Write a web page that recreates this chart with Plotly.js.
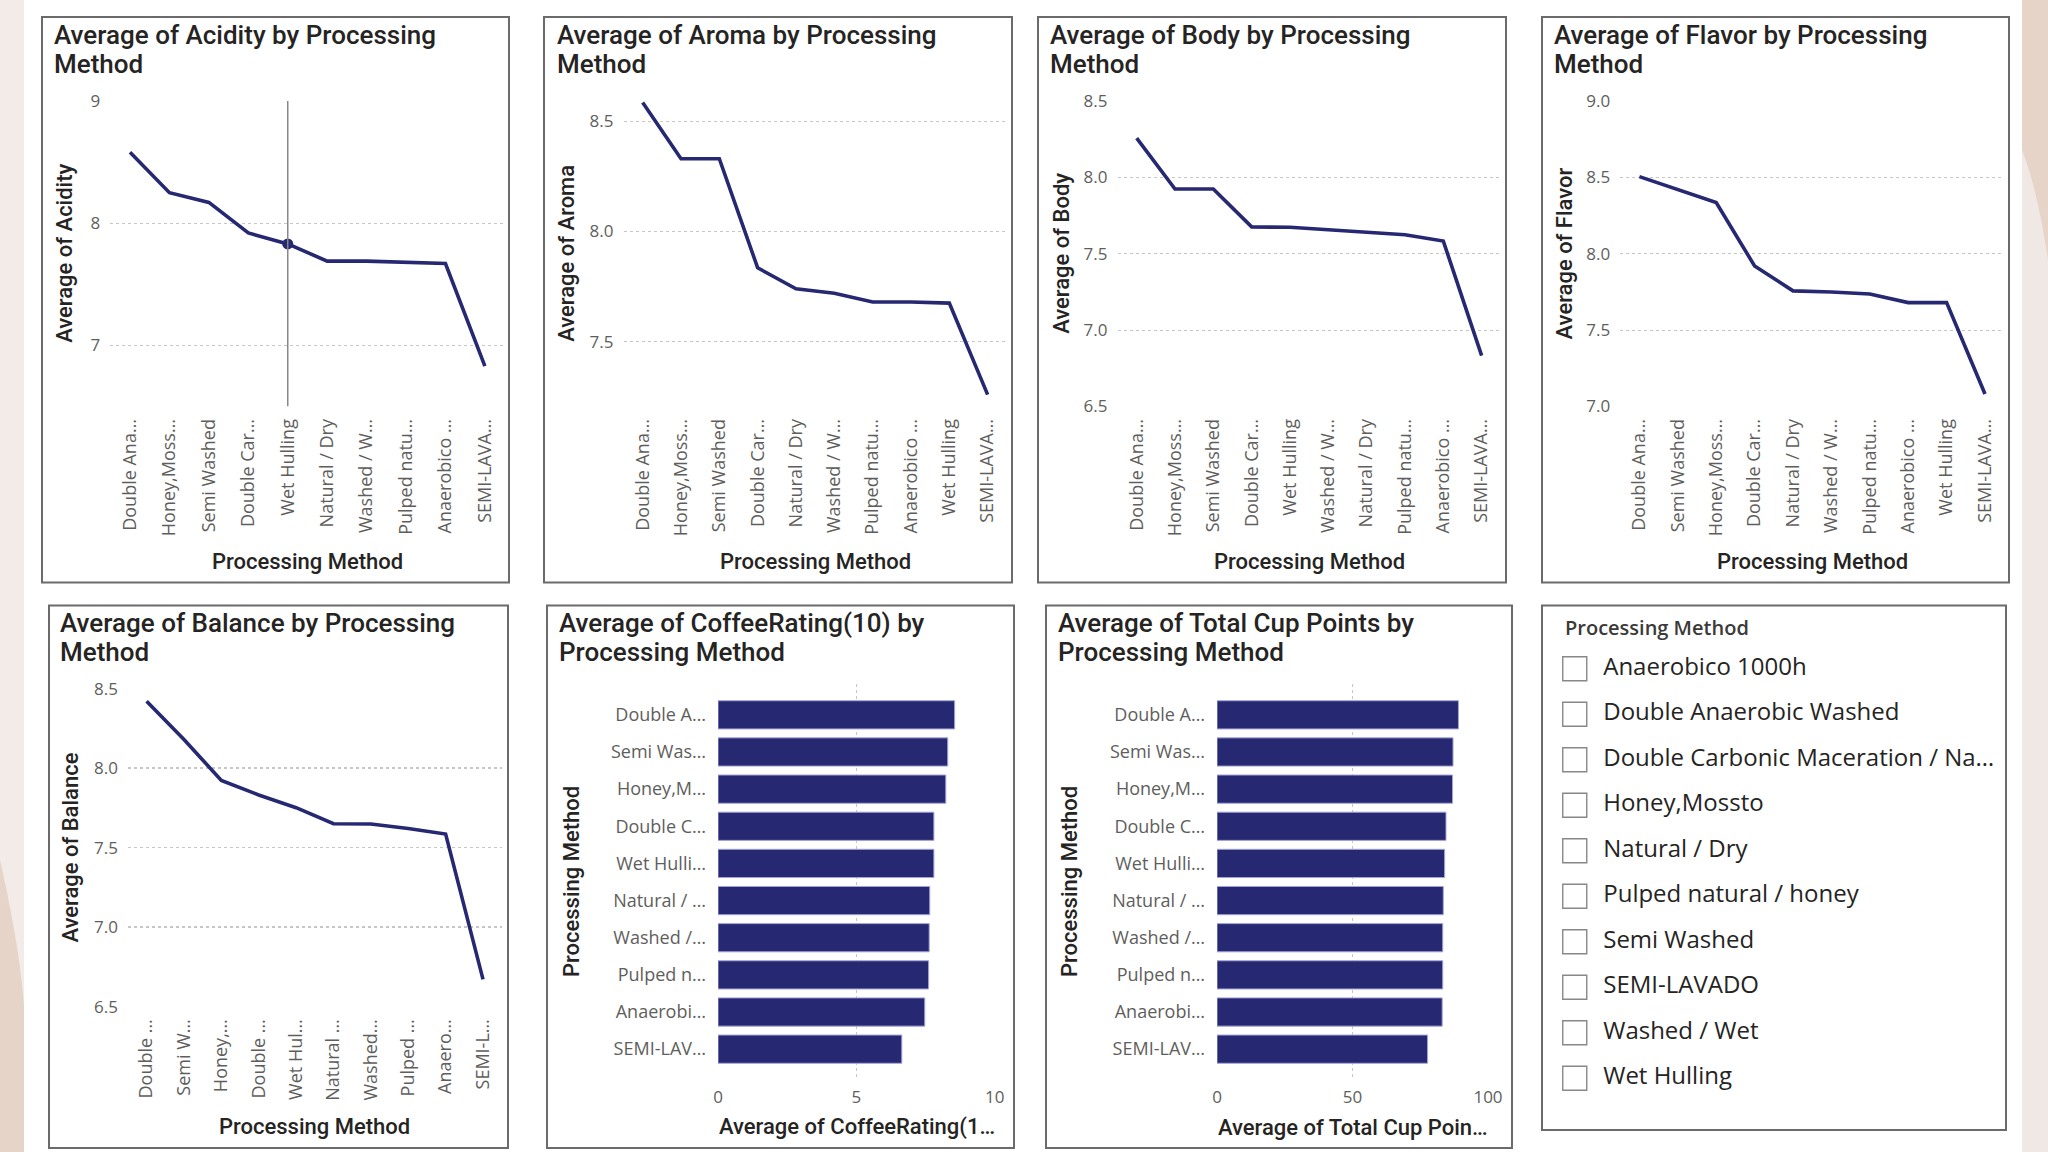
<!DOCTYPE html>
<html>
<head>
<meta charset="utf-8">
<script src="https://cdn.plot.ly/plotly-3.0.1.min.js"></script>
<style>
html,body{margin:0;padding:0;background:#ffffff;}
#chart{width:2048px;height:1152px;}
</style>
</head>
<body>
<div id="chart"></div>
<script>
// ---------------- DATA ----------------
const acidityCats = ["Double Anaerobic Washed","Honey,Mossto","Semi Washed","Double Carbonic Maceration / Natural","Wet Hulling","Natural / Dry","Washed / Wet","Pulped natural / honey","Anaerobico 1000h","SEMI-LAVADO"];
const acidityLabels = ["Double Ana…","Honey,Moss…","Semi Washed","Double Car…","Wet Hulling","Natural / Dry","Washed / W…","Pulped natu…","Anaerobico …","SEMI-LAVA…"];
const acidityValues = [8.58,8.25,8.17,7.92,7.83,7.69,7.69,7.68,7.67,6.83];

const aromaCats = ["Double Anaerobic Washed","Honey,Mossto","Semi Washed","Double Carbonic Maceration / Natural","Natural / Dry","Washed / Wet","Pulped natural / honey","Anaerobico 1000h","Wet Hulling","SEMI-LAVADO"];
const aromaLabels = ["Double Ana…","Honey,Moss…","Semi Washed","Double Car…","Natural / Dry","Washed / W…","Pulped natu…","Anaerobico …","Wet Hulling","SEMI-LAVA…"];
const aromaValues = [8.585,8.33,8.33,7.835,7.74,7.72,7.68,7.68,7.675,7.26];

const bodyCats = ["Double Anaerobic Washed","Honey,Mossto","Semi Washed","Double Carbonic Maceration / Natural","Wet Hulling","Washed / Wet","Natural / Dry","Pulped natural / honey","Anaerobico 1000h","SEMI-LAVADO"];
const bodyLabels = ["Double Ana…","Honey,Moss…","Semi Washed","Double Car…","Wet Hulling","Washed / W…","Natural / Dry","Pulped natu…","Anaerobico …","SEMI-LAVA…"];
const bodyValues = [8.257,7.924,7.924,7.676,7.673,7.658,7.644,7.624,7.583,6.833];

const flavorCats = ["Double Anaerobic Washed","Semi Washed","Honey,Mossto","Double Carbonic Maceration / Natural","Natural / Dry","Washed / Wet","Pulped natural / honey","Anaerobico 1000h","Wet Hulling","SEMI-LAVADO"];
const flavorLabels = ["Double Ana…","Semi Washed","Honey,Moss…","Double Car…","Natural / Dry","Washed / W…","Pulped natu…","Anaerobico …","Wet Hulling","SEMI-LAVA…"];
const flavorValues = [8.505,8.42,8.335,7.92,7.757,7.75,7.737,7.68,7.68,7.082];

const balanceCats = ["Double Anaerobic Washed","Semi Washed","Honey,Mossto","Double Carbonic Maceration / Natural","Wet Hulling","Natural / Dry","Washed / Wet","Pulped natural / honey","Anaerobico 1000h","SEMI-LAVADO"];
const balanceLabels = ["Double …","Semi W…","Honey,…","Double …","Wet Hul…","Natural …","Washed…","Pulped …","Anaero…","SEMI-L…"];
const balanceValues = [8.42,8.18,7.922,7.831,7.751,7.65,7.648,7.62,7.585,6.671];

const barCats = ["Double Anaerobic Washed","Semi Washed","Honey,Mossto","Double Carbonic Maceration / Natural","Wet Hulling","Natural / Dry","Washed / Wet","Pulped natural / honey","Anaerobico 1000h","SEMI-LAVADO"];
const barLabels = ["Double A…","Semi Was…","Honey,M…","Double C…","Wet Hulli…","Natural / …","Washed /…","Pulped n…","Anaerobi…","SEMI-LAV…"];
const coffeeRatingValues = [8.55,8.30,8.23,7.80,7.80,7.65,7.63,7.61,7.47,6.64];
const totalCupValues = [89.1,87.1,86.9,84.5,84.0,83.5,83.3,83.3,83.1,77.7];

const slicerHeader = "Processing Method";
const slicerItems = ["Anaerobico 1000h","Double Anaerobic Washed","Double Carbonic Maceration / Na…","Honey,Mossto","Natural / Dry","Pulped natural / honey","Semi Washed","SEMI-LAVADO","Washed / Wet","Wet Hulling"];

const chartTitles = [
  ["Average of Acidity by Processing","Method"],
  ["Average of Aroma by Processing","Method"],
  ["Average of Body by Processing","Method"],
  ["Average of Flavor by Processing","Method"],
  ["Average of Balance by Processing","Method"],
  ["Average of CoffeeRating(10) by","Processing Method"],
  ["Average of Total Cup Points by","Processing Method"]
];
const yTitles = ["Average of Acidity","Average of Aroma","Average of Body","Average of Flavor","Average of Balance","Processing Method","Processing Method"];
const xTitles = ["Processing Method","Processing Method","Processing Method","Processing Method","Processing Method","Average of CoffeeRating(1…","Average of Total Cup Poin…"];

// ---------------- LAYOUT HELPERS ----------------
const W = 2048, H = 1152;
const px = x => x / W;
const py = y => 1 - y / H;

const NAVY = "#262972";
const GRID = "#c8c6c4";
const TICK = "#605e5c";
const DARK = "#252423";
const TITLE_FONT = {family:"Roboto", size:26, weight:500, color:DARK};
const AXTITLE_FONT = {family:"Roboto", size:22, weight:500, color:DARK};
const NUM_FONT = {family:"Open Sans", size:17, color:TICK};
const CAT_FONT = {family:"Open Sans", size:18, color:TICK};

const panels = [
  {x0:42,x1:509,y0:17,y1:582.5},
  {x0:544,x1:1012,y0:17,y1:582.5},
  {x0:1038,x1:1506,y0:17,y1:582.5},
  {x0:1542,x1:2009,y0:17,y1:582.5},
  {x0:49,x1:508,y0:605.6,y1:1148},
  {x0:547,x1:1014,y0:605.6,y1:1148},
  {x0:1046,x1:1512,y0:605.6,y1:1148},
  {x0:1542,x1:2006,y0:605.6,y1:1130}
];
const plots = [
  {x0:110.3,x1:504.6,y0:101,y1:406.5},
  {x0:623.5,x1:1006.8,y0:101,y1:406.5},
  {x0:1117.5,x1:1500.8,y0:101,y1:406.5},
  {x0:1620.2,x1:2004.2,y0:101,y1:406.5},
  {x0:127.9,x1:501.7,y0:688.6,y1:1006.6},
  {x0:718,x1:994.8,y0:684,y1:1080},
  {x0:1217,x1:1488,y0:684,y1:1080}
];
const titlePos = [[52,35,64],[555,35,64],[1048,35,64],[1552,35,64],[58,623,651.5],[557,623,651.5],[1055.5,623,651.5]];
const yTitlePos = [[65,253.75],[567,253.75],[1062,253.75],[1564.7,253.75],[71,847.6],[571,882],[1069,882]];
const xTitlePos = [[307.5,561],[815,561],[1309,561],[1812,561],[314.8,1126],[857,1127],[1352.5,1127]];

const lineCharts = [
  {cats:acidityCats, labels:acidityLabels, vals:acidityValues, range:[6.5,9], tickvals:[7,8,9], fmt:".0f"},
  {cats:aromaCats, labels:aromaLabels, vals:aromaValues, range:[7.206,8.592], tickvals:[7.5,8.0,8.5], fmt:".1f"},
  {cats:bodyCats, labels:bodyLabels, vals:bodyValues, range:[6.5,8.5], tickvals:[6.5,7.0,7.5,8.0,8.5], fmt:".1f"},
  {cats:flavorCats, labels:flavorLabels, vals:flavorValues, range:[7,9], tickvals:[7.0,7.5,8.0,8.5,9.0], fmt:".1f"},
  {cats:balanceCats, labels:balanceLabels, vals:balanceValues, range:[6.5,8.5], tickvals:[6.5,7.0,7.5,8.0,8.5], fmt:".1f"}
];
const barCharts = [
  {vals:coffeeRatingValues, range:[0,10], tickvals:[0,5,10]},
  {vals:totalCupValues, range:[0,100], tickvals:[0,50,100]}
];

const traces = [];
const layout = {
  width:W, height:H, autosize:false,
  margin:{l:0,r:0,t:0,b:0},
  paper_bgcolor:"#ffffff", plot_bgcolor:"rgba(0,0,0,0)",
  showlegend:false, hovermode:false,
  font:{family:"Open Sans", color:TICK},
  shapes:[], annotations:[]
};

const axKey = (c,i) => i===1 ? c+"axis" : c+"axis"+i;
const axRef = (c,i) => i===1 ? c : c+i;

// background decoration
layout.shapes.push({type:"rect", xref:"paper", yref:"paper", x0:0, x1:px(24), y0:0, y1:1, fillcolor:"#f2ebe7", line:{width:0}, layer:"below"});
layout.shapes.push({type:"rect", xref:"paper", yref:"paper", x0:px(2022), x1:1, y0:0, y1:1, fillcolor:"#f0e8e4", line:{width:0}, layer:"below"});
layout.shapes.push({type:"path", xref:"paper", yref:"paper",
  path:`M 0 ${py(860)} C ${px(10)} ${py(905)}, ${px(20)} ${py(955)}, ${px(24)} ${py(1005)} L ${px(24)} 0 L 0 0 Z`,
  fillcolor:"#e6d4c9", line:{width:0}, layer:"below"});
layout.shapes.push({type:"path", xref:"paper", yref:"paper",
  path:`M ${px(2022)} 1 L 1 1 L 1 ${py(260)} C ${px(2040)} ${py(205)}, ${px(2030)} ${py(170)}, ${px(2022)} ${py(150)} Z`,
  fillcolor:"#e6d4c9", line:{width:0}, layer:"below"});

// panel borders
panels.forEach(p => {
  layout.shapes.push({type:"rect", xref:"paper", yref:"paper",
    x0:px(p.x0), x1:px(p.x1), y0:py(p.y1), y1:py(p.y0),
    fillcolor:"#ffffff", line:{color:"#6b6b6b", width:2}, layer:"below"});
});

// line charts
lineCharts.forEach((c, k) => {
  const i = k + 1;
  const b = plots[k];
  traces.push({type:"scatter", mode:"lines", x:c.cats, y:c.vals,
    xaxis:axRef("x",i), yaxis:axRef("y",i),
    line:{color:NAVY, width:3.6}, hoverinfo:"skip"});
  layout[axKey("x",i)] = {
    domain:[px(b.x0), px(b.x1)], anchor:axRef("y",i),
    type:"category", categoryorder:"array", categoryarray:c.cats,
    range:[-0.5, c.cats.length - 0.5],
    tickmode:"array", tickvals:c.cats, ticktext:c.labels, tickangle:-90,
    tickfont:CAT_FONT, ticks:"", showgrid:false, zeroline:false, showline:false,
    ticklabelstandoff:8, fixedrange:true
  };
  layout[axKey("y",i)] = {
    domain:[py(b.y1), py(b.y0)], anchor:axRef("x",i),
    range:c.range, tickmode:"array", tickvals:c.tickvals, tickformat:c.fmt,
    tickfont:NUM_FONT, ticks:"", showgrid:true, gridcolor:GRID, griddash:"dot", gridwidth:1.2,
    zeroline:false, showline:false, ticklabelstandoff:9, fixedrange:true
  };
});

// hover crosshair on the Acidity chart (Wet Hulling)
const hoverIdx = acidityCats.indexOf("Wet Hulling");
layout.shapes.push({type:"line", xref:"x", yref:"y",
  x0:acidityCats[hoverIdx], x1:acidityCats[hoverIdx], y0:lineCharts[0].range[0], y1:lineCharts[0].range[1],
  line:{color:"#8a8886", width:1.5}});
traces.push({type:"scatter", mode:"markers", x:[acidityCats[hoverIdx]], y:[acidityValues[hoverIdx]],
  xaxis:"x", yaxis:"y", marker:{color:NAVY, size:11}, hoverinfo:"skip"});

// bar charts
barCharts.forEach((c, k) => {
  const i = 6 + k;
  const b = plots[5 + k];
  traces.push({type:"bar", orientation:"h", x:c.vals, y:barCats,
    xaxis:axRef("x",i), yaxis:axRef("y",i),
    marker:{color:NAVY, line:{color:"#a3a5d9", width:1}}, hoverinfo:"skip"});
  layout[axKey("x",i)] = {
    domain:[px(b.x0), px(b.x1)], anchor:axRef("y",i),
    range:c.range, tickmode:"array", tickvals:c.tickvals,
    tickfont:NUM_FONT, ticks:"", showgrid:true, gridcolor:GRID, griddash:"dot", gridwidth:1.2,
    zeroline:false, showline:false, ticklabelstandoff:5, fixedrange:true
  };
  layout[axKey("y",i)] = {
    domain:[py(b.y1), py(b.y0)], anchor:axRef("x",i),
    type:"category", categoryorder:"array", categoryarray:barCats,
    range:[9.83,-0.83], tickmode:"array", tickvals:barCats, ticktext:barLabels,
    tickfont:CAT_FONT, ticks:"", showgrid:false, zeroline:false, showline:false,
    ticklabelstandoff:11, fixedrange:true
  };
});
layout.bargap = 0.24;

// slicer list
traces.push({type:"scatter", mode:"markers+text", x:slicerItems.map(() => 0), y:slicerItems,
  xaxis:"x8", yaxis:"y8", text:slicerItems.map(s => "\u00a0\u00a0" + s), textposition:"middle right",
  textfont:{family:"Open Sans", size:24, color:DARK},
  marker:{symbol:"square-open", size:24, color:"#8a8886", line:{width:1.4, color:"#8a8886"}},
  cliponaxis:false, hoverinfo:"skip"});
layout.xaxis8 = {domain:[px(1550), px(2000)], anchor:"y8", range:[-0.055,0.945], visible:false, fixedrange:true};
layout.yaxis8 = {domain:[py(1101), py(646)], anchor:"x8", type:"category", categoryorder:"array",
  categoryarray:slicerItems, range:[9.5,-0.5], visible:false, fixedrange:true};
layout.annotations.push({text:slicerHeader, xref:"paper", yref:"paper", x:px(1563), y:py(627.6),
  xanchor:"left", yanchor:"middle", showarrow:false,
  font:{family:"Open Sans", size:20, weight:600, color:"#3b3a39"}});

// titles & axis titles
chartTitles.forEach((t, k) => {
  const [x, y1, y2] = titlePos[k];
  [y1, y2].forEach((y, j) => layout.annotations.push({text:t[j], xref:"paper", yref:"paper",
    x:px(x), y:py(y), xanchor:"left", yanchor:"middle", showarrow:false, font:TITLE_FONT}));
  layout.annotations.push({text:yTitles[k], xref:"paper", yref:"paper",
    x:px(yTitlePos[k][0]), y:py(yTitlePos[k][1]), textangle:-90,
    xanchor:"center", yanchor:"middle", showarrow:false, font:AXTITLE_FONT});
  layout.annotations.push({text:xTitles[k], xref:"paper", yref:"paper",
    x:px(xTitlePos[k][0]), y:py(xTitlePos[k][1]),
    xanchor:"center", yanchor:"middle", showarrow:false, font:AXTITLE_FONT});
});

Plotly.newPlot("chart", traces, layout, {displayModeBar:false, staticPlot:true});
</script>
</body>
</html>
